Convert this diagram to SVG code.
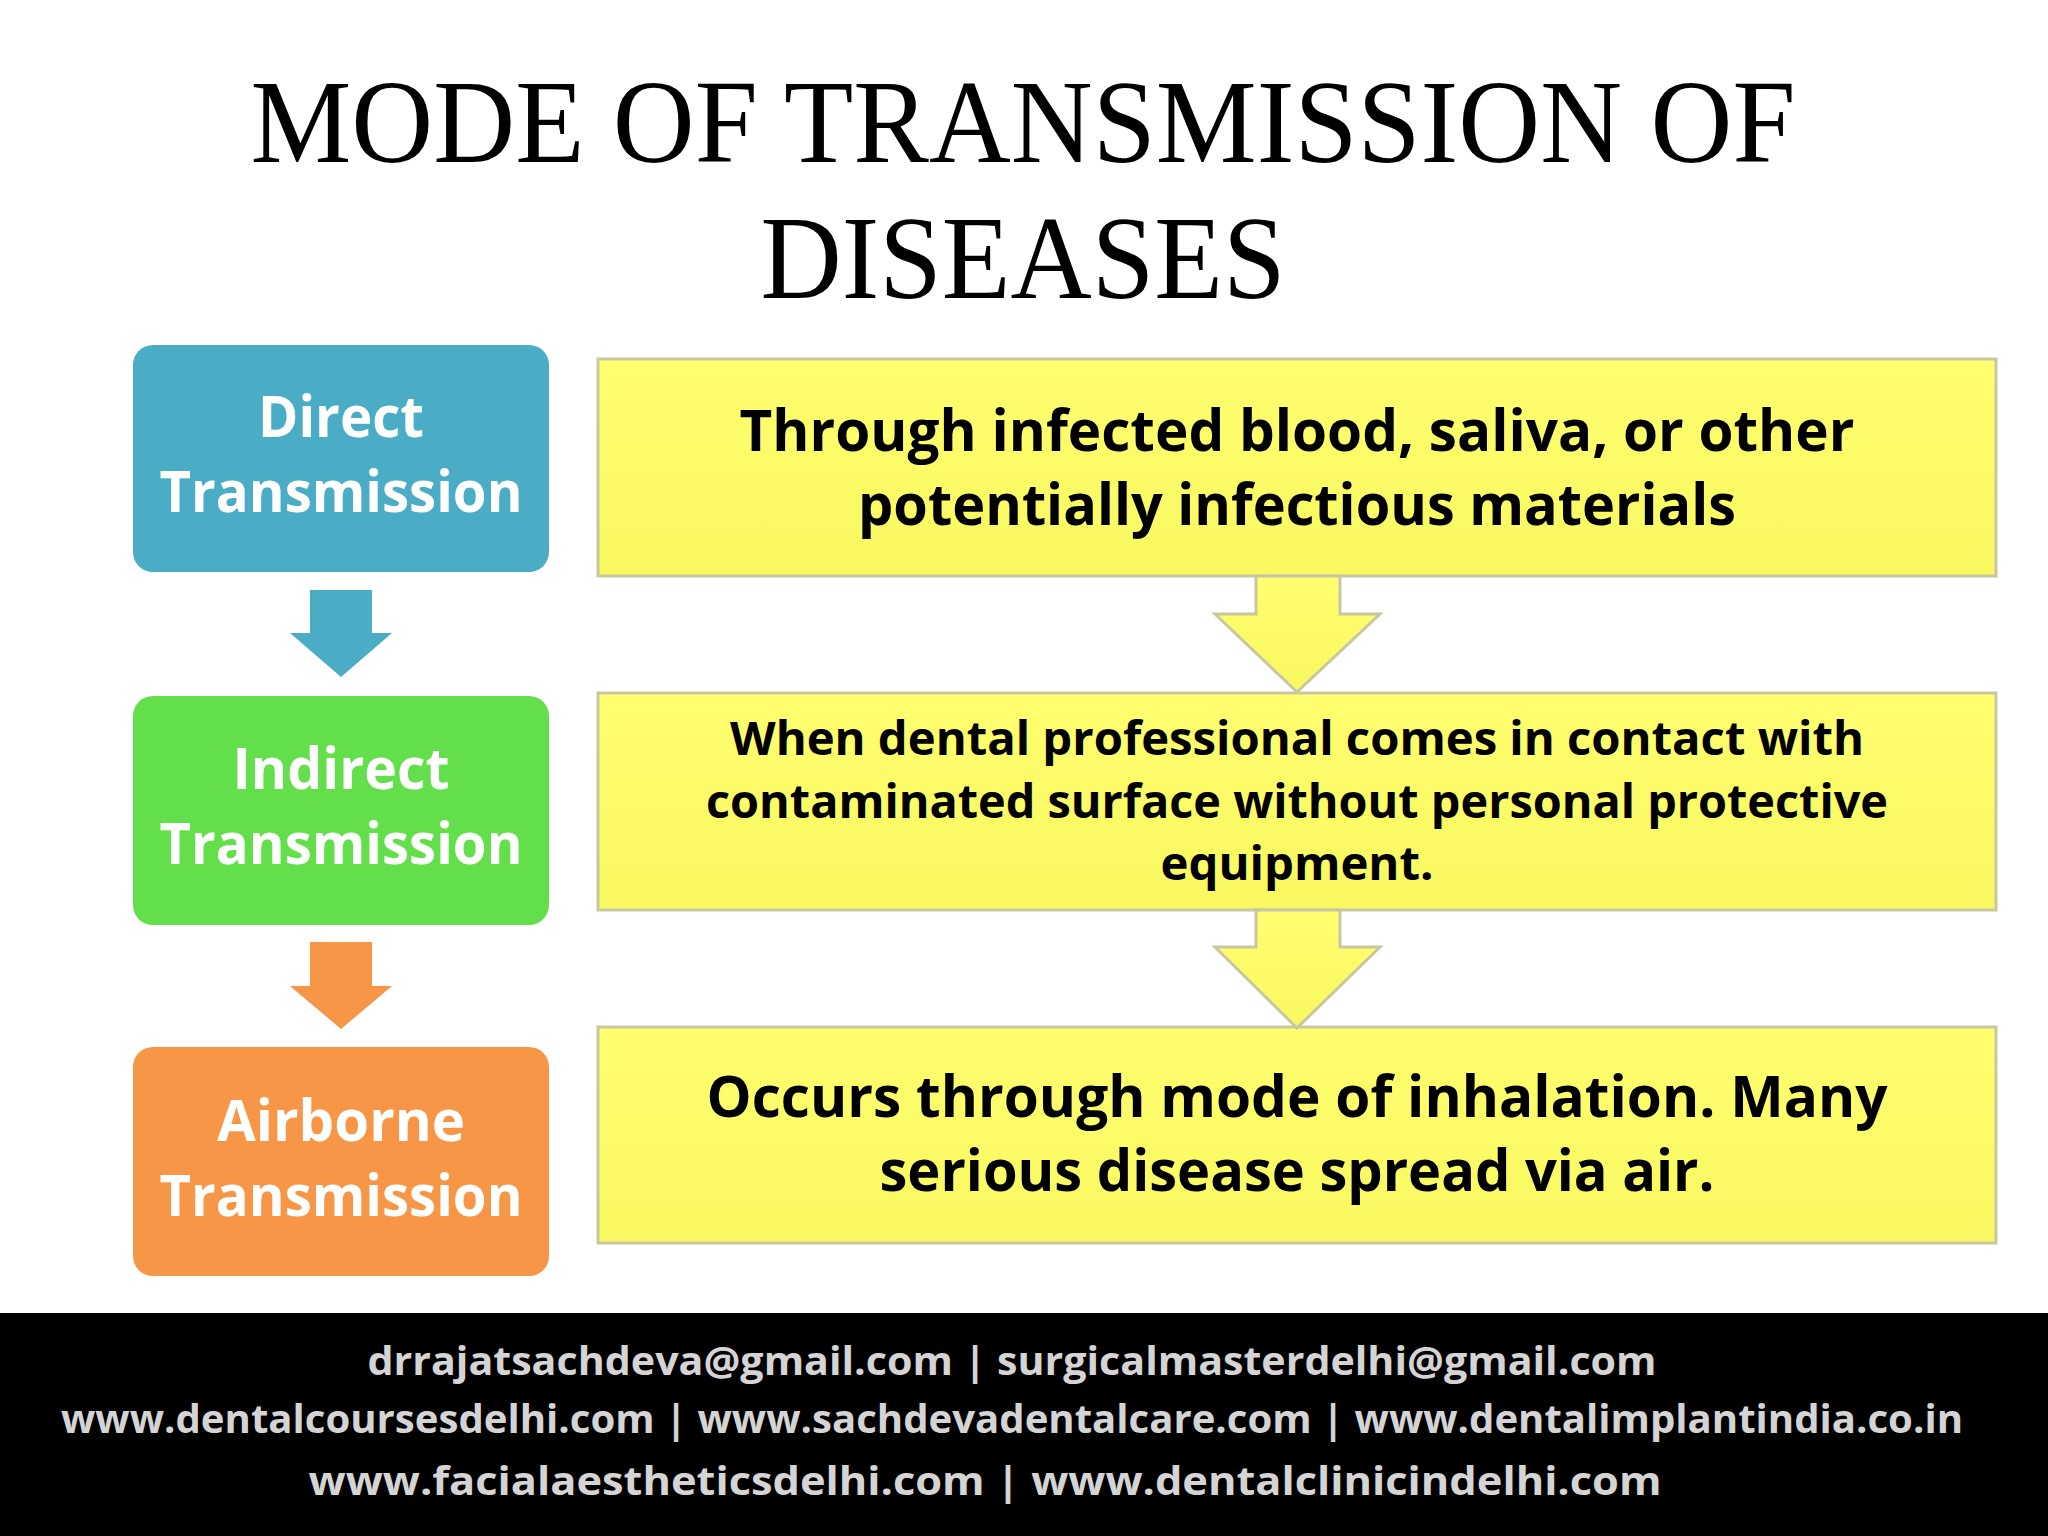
<svg xmlns="http://www.w3.org/2000/svg" width="2048" height="1536" viewBox="0 0 2048 1536">
<defs>
<style>
.t{font-family:"Liberation Serif",serif;font-size:118px;fill:#000;text-anchor:middle}
.w{font-family:"Open Sans","Noto Sans",sans-serif;font-weight:bold;font-size:57px;fill:#fff;text-anchor:middle}
.k{font-family:"Open Sans","Noto Sans",sans-serif;font-weight:bold;fill:#000;text-anchor:middle}
.f{font-family:"Open Sans","Noto Sans",sans-serif;font-weight:bold;font-size:39px;fill:#d4d4d4;text-anchor:middle}
.y{fill:url(#yg);stroke:#c8c8a0;stroke-width:3}
</style>
<linearGradient id="yg" x1="0" y1="0" x2="0" y2="1">
<stop offset="0" stop-color="#ffff70"/><stop offset="1" stop-color="#f8f860"/>
</linearGradient>
</defs>
<rect width="2048" height="1536" fill="#fff"/>
<text class="t" x="1023" y="162" textLength="1545" lengthAdjust="spacingAndGlyphs">MODE OF TRANSMISSION OF</text>
<text class="t" x="1023" y="298" textLength="525" lengthAdjust="spacingAndGlyphs">DISEASES</text>

<g id="direct"><rect x="133" y="345" width="416" height="227" rx="20" fill="#4bacc6"/>
<text class="w" x="341" y="437" textLength="166" lengthAdjust="spacingAndGlyphs">Direct</text>
<text class="w" x="341" y="512" textLength="363" lengthAdjust="spacingAndGlyphs">Transmission</text></g>
<g id="indirect"><rect x="133" y="696" width="416" height="229" rx="20" fill="#62df4a"/>
<text class="w" x="341" y="789" textLength="217" lengthAdjust="spacingAndGlyphs">Indirect</text>
<text class="w" x="341" y="864" textLength="363" lengthAdjust="spacingAndGlyphs">Transmission</text></g>
<g id="airborne"><rect x="133" y="1047" width="416" height="229" rx="20" fill="#f79646"/>
<text class="w" x="341" y="1141" textLength="248" lengthAdjust="spacingAndGlyphs">Airborne</text>
<text class="w" x="341" y="1216" textLength="363" lengthAdjust="spacingAndGlyphs">Transmission</text></g>

<g id="box1"><rect class="y" x="598" y="359" width="1398" height="217"/>
<text class="k" font-size="57" x="1297" y="451" textLength="1115" lengthAdjust="spacingAndGlyphs">Through infected blood, saliva, or other</text>
<text class="k" font-size="57" x="1297" y="525" textLength="878" lengthAdjust="spacingAndGlyphs">potentially infectious materials</text></g>
<g id="box2"><rect class="y" x="598" y="693" width="1398" height="217"/>
<text class="k" font-size="47" x="1297" y="755" textLength="1134" lengthAdjust="spacingAndGlyphs">When dental professional comes in contact with</text>
<text class="k" font-size="47" x="1297" y="818" textLength="1182" lengthAdjust="spacingAndGlyphs">contaminated surface without personal protective</text>
<text class="k" font-size="47" x="1297" y="880" textLength="273" lengthAdjust="spacingAndGlyphs">equipment.</text></g>
<g id="box3"><rect class="y" x="598" y="1027" width="1398" height="216"/>
<text class="k" font-size="57" x="1297" y="1117" textLength="1181" lengthAdjust="spacingAndGlyphs">Occurs through mode of inhalation. Many</text>
<text class="k" font-size="57" x="1297" y="1191" textLength="835" lengthAdjust="spacingAndGlyphs">serious disease spread via air.</text></g>

<g id="connectors">
<polygon points="310,590 372,590 372,633 392,633 341,677 290,633 310,633" fill="#4bacc6"/>
<polygon points="310,942 372,942 372,986 392,986 341,1029 290,986 310,986" fill="#f79646"/>
<polygon points="1256,576 1340,576 1340,614 1380,614 1297,692 1215,614 1256,614" fill="url(#yg)" stroke="#c8c8a0" stroke-width="3"/>
<polygon points="1256,910 1340,910 1340,947 1380,947 1297,1028 1215,947 1256,947" fill="url(#yg)" stroke="#c8c8a0" stroke-width="3"/>
</g>

<rect x="0" y="1313" width="2048" height="223" fill="#000"/>
<text class="f" x="1012" y="1375" textLength="1289" lengthAdjust="spacingAndGlyphs">drrajatsachdeva@gmail.com | surgicalmasterdelhi@gmail.com</text>
<text class="f" x="1012" y="1433" textLength="1902" lengthAdjust="spacingAndGlyphs">www.dentalcoursesdelhi.com | www.sachdevadentalcare.com | www.dentalimplantindia.co.in</text>
<text class="f" x="985" y="1495" textLength="1353" lengthAdjust="spacingAndGlyphs">www.facialaestheticsdelhi.com | www.dentalclinicindelhi.com</text>
</svg>
